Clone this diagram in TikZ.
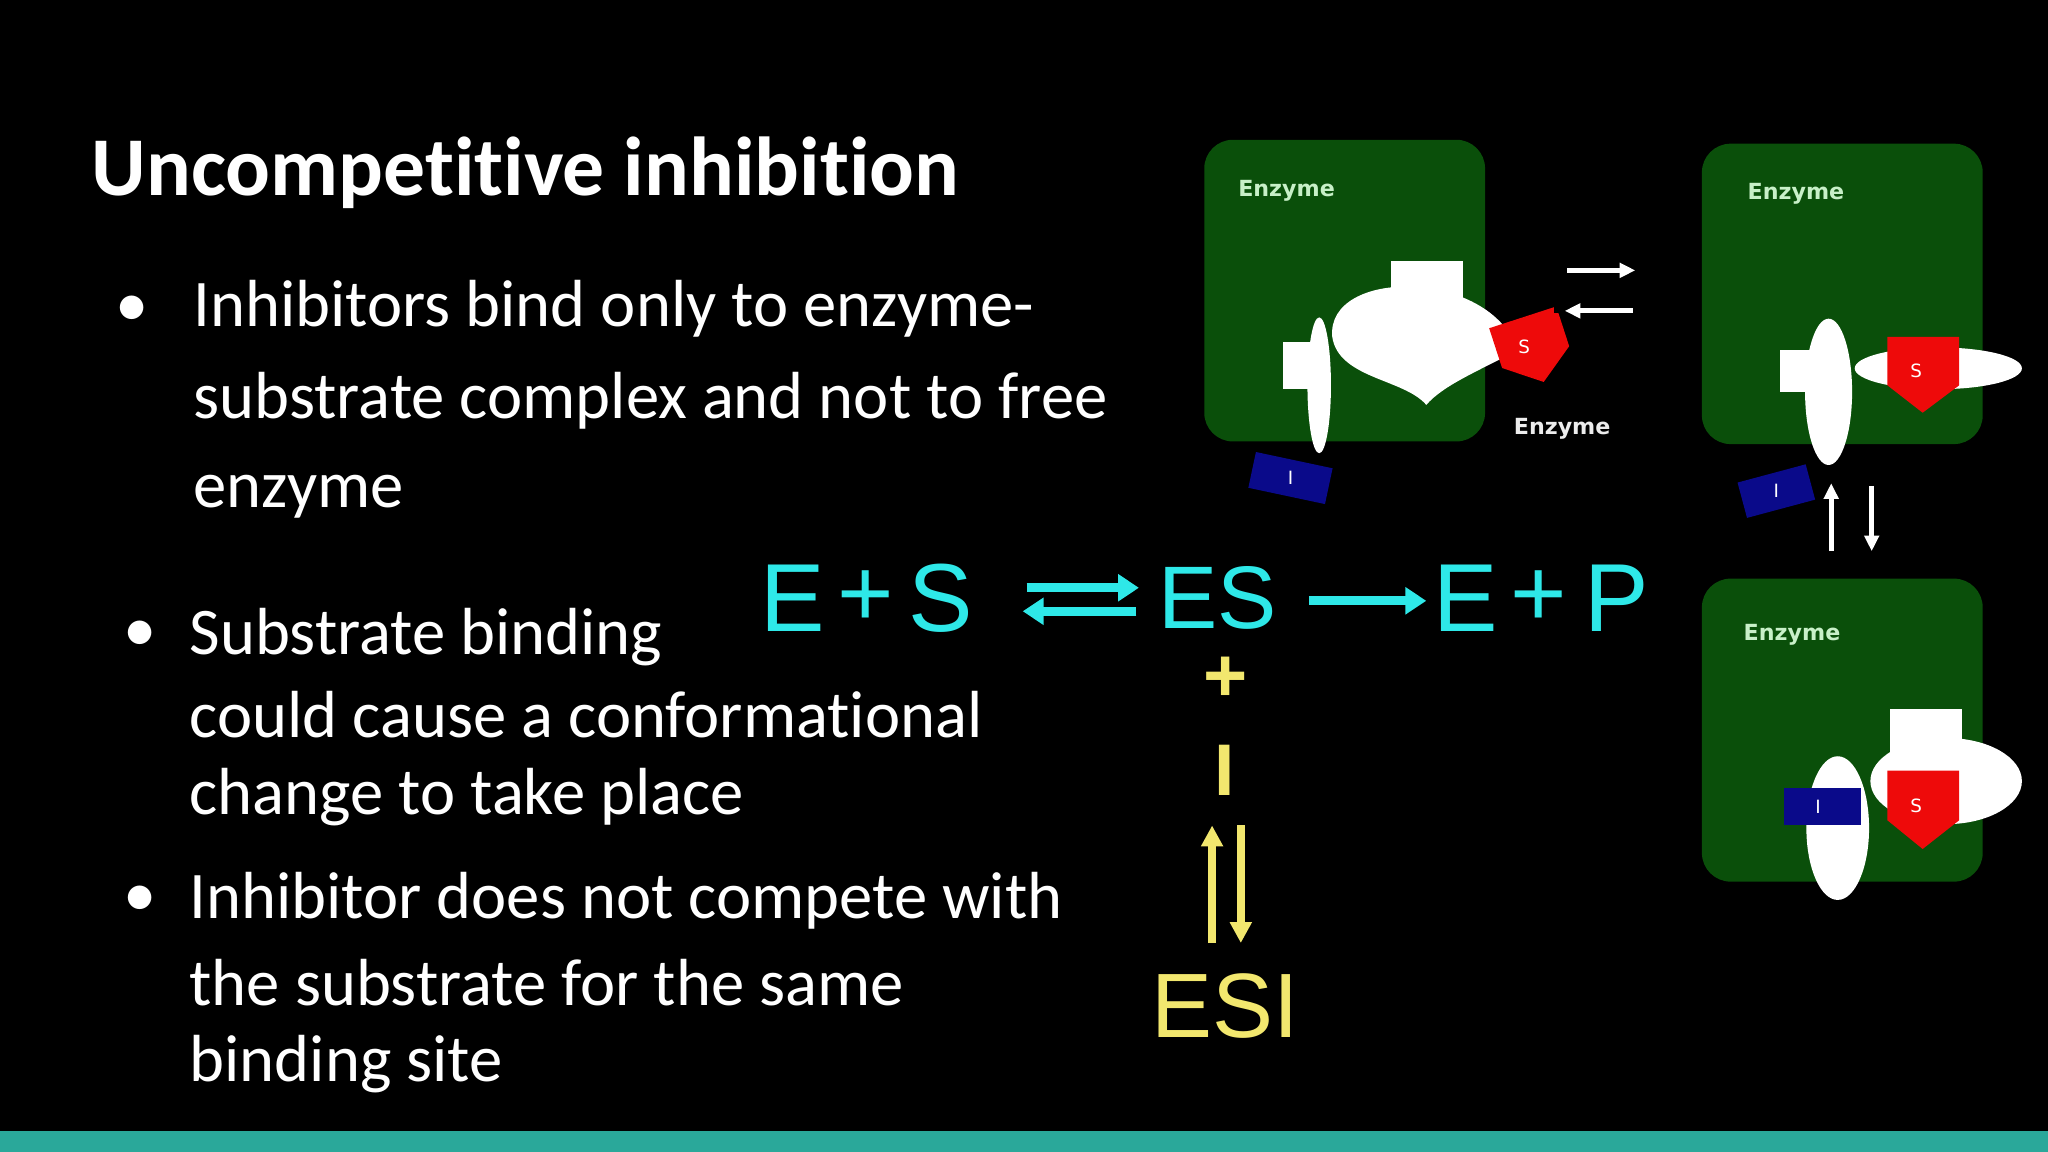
\documentclass[tikz,border=0pt]{standalone}
\usepackage{fontspec}
\setmainfont[Ligatures=NoCommon]{Carlito}
\newfontfamily\eqfont{Liberation Sans}
\newfontfamily\labfont{DejaVu Sans}
\usetikzlibrary{arrows.meta}
\definecolor{teal}{HTML}{2AA89A}
\definecolor{cy}{HTML}{2EE8E8}
\definecolor{yl}{HTML}{F2E76E}
\definecolor{gr}{HTML}{0A4F0A}
\definecolor{lg}{HTML}{C8F0C8}
\definecolor{bl}{HTML}{0A0A8A}
\definecolor{rd}{HTML}{EE0A0A}
\begin{document}
\begin{tikzpicture}[x=1pt,y=-1pt,
  txt/.style={text=white,anchor=west,inner sep=0,font=\fontsize{51}{55}\selectfont},
  eq/.style={text=cy,inner sep=0,font=\eqfont\fontsize{74}{78}\selectfont},
  eqy/.style={text=yl,inner sep=0,font=\eqfont\fontsize{72}{76}\selectfont},
  box/.style={fill=gr,rounded corners=22pt},
  enz/.style={text=lg,inner sep=0,font=\labfont\bfseries\fontsize{17}{19}\selectfont},
  wh/.style={fill=white},
  lab/.style={text=white,inner sep=0,font=\labfont\fontsize{14}{16}\selectfont},
  carr/.style={draw=cy,line width=7pt,-{Triangle[length=16pt,width=20pt]}},
  yarr/.style={draw=yl,line width=6pt,-{Triangle[length=16pt,width=16pt]}},
  warr/.style={draw=white,line width=4pt,-{Triangle[length=12pt,width=11pt]}}]
\fill[black] (0,0) rectangle (1568,882);
\useasboundingbox (0,0) rectangle (1568,882);
\fill[teal] (0,866) rectangle (1568,882);
% texts
\node[txt,font=\bfseries\fontsize{64}{68}\selectfont] (title) at (70,132) {Uncompetitive inhibition};
\node[txt] (b1) at (88,238) {\textbullet};
\node[txt] (l11) at (148,236) {Inhibitors bind only to enzyme-};
\node[txt] (l12) at (148,307) {substrate complex and not to free};
\node[txt] (l13) at (148,380) {enzyme};
\node[txt] (b2) at (94,487) {•};
\node[txt] (l21) at (145,488) {Substrate binding};
\node[txt] (l22) at (145,547) {could cause a conformational};
\node[txt] (l23) at (145,610) {change to take place};
\node[txt] (b3) at (94,690) {•};
\node[txt] (l31) at (145,690) {Inhibitor does not compete with};
\node[txt] (l32) at (145,752) {the substrate for the same};
\node[txt] (l33) at (145,815) {binding site};
% equation
\node[eq] (e1) at (607,458) {E};
\node[eq] (p1) at (663,458) {+};
\node[eq] (s1) at (720,458) {S};
\node[eq,font=\eqfont\fontsize{68}{72}\selectfont] (es) at (932,458) {ES};
\node[eq] (e2) at (1122,458) {E};
\node[eq] (p2) at (1178,458) {+};
\node[eq] (pp) at (1238,458) {P};
\coordinate (h1a) at (786,450); \coordinate (h1b) at (872,450);
\coordinate (h2a) at (870,468); \coordinate (h2b) at (783,468);
\draw[carr] (h1a) -- (h1b);
\draw[carr] (h2a) -- (h2b);
\coordinate (fa) at (1002,460); \coordinate (fb) at (1092,460);
\draw[carr] (fa) -- (fb);
\node[eqy,font=\eqfont\bfseries\fontsize{58}{62}\selectfont] (yp) at (938,520) {+};
\node[eqy,font=\eqfont\bfseries\fontsize{56}{60}\selectfont] (yi) at (938,590) {I};
\node[eqy,font=\eqfont\fontsize{70}{74}\selectfont] (esi) at (938,770) {ESI};
\coordinate (ua) at (928,722); \coordinate (ub) at (928,632);
\coordinate (da) at (950,632); \coordinate (db) at (950,722);
\draw[yarr] (ua) -- (ub);
\draw[yarr] (da) -- (db);
% box 1
\fill[box] (922,107) rectangle (1137,338);
\node[enz] (en1) at (985,146) {Enzyme};
\fill[wh] (982,262) rectangle (1005,298);
\fill[wh] (1010,295) ellipse (9 and 52);
\fill[wh] (1065,200) rectangle (1120,228);
\fill[wh] (1020,258) .. controls (1015,205) and (1140,205) .. (1162,268) .. controls (1130,285) and (1105,295) .. (1092,310) .. controls (1075,290) and (1025,290) .. cycle;
\begin{scope}[shift={(1172,262)},rotate=18]
\fill[rd] (-27,-20) -- (27,-20) -- (27,12) -- (0,32) -- (-27,12) -- cycle;
\node[lab] (s1l) at (-6,2) {S};
\end{scope}
\fill[black] (1190,228) rectangle (1205,240);
\node[lab,font=\labfont\bfseries\fontsize{17}{19}\selectfont,text=white!85!gray] (en1b) at (1196,328) {Enzyme};
\begin{scope}[shift={(988,366)},rotate=-12]
\fill[bl] (-30,-14) rectangle (30,14);
\node[lab] (i1l) at (0,0) {I};
\end{scope}
\coordinate (wa) at (1200,207); \coordinate (wb) at (1252,207);
\coordinate (wc) at (1250,238); \coordinate (wd) at (1198,238);
\draw[warr] (wa) -- (wb);
\draw[warr] (wc) -- (wd);
% box 2
\fill[box] (1303,110) rectangle (1518,340);
\node[enz] (en2) at (1375,148) {Enzyme};
\fill[wh] (1363,268) rectangle (1392,300);
\fill[wh] (1400,300) ellipse (18 and 56);
\fill[wh] (1484,282) ellipse (64 and 16);
\fill[rd] (1445,258) -- (1500,258) -- (1500,295) -- (1472,316) -- (1445,295) -- cycle;
\node[lab] (s2l) at (1467,284) {S};
\begin{scope}[shift={(1360,376)},rotate=15]
\fill[bl] (-27,-14) rectangle (27,14);
\node[lab] (i2l) at (0,0) {I};
\end{scope}
\coordinate (va) at (1402,422); \coordinate (vb) at (1402,370);
\coordinate (vc) at (1433,372); \coordinate (vd) at (1433,422);
\draw[warr] (va) -- (vb);
\draw[warr] (vc) -- (vd);
% box 3
\fill[box] (1303,443) rectangle (1518,675);
\node[enz] (en3) at (1372,486) {Enzyme};
\fill[wh] (1447,543) rectangle (1502,578);
\fill[wh] (1490,598) ellipse (58 and 33);
\fill[wh] (1407,634) ellipse (24 and 55);
\fill[bl] (1366,603) rectangle (1425,632);
\node[lab] (i3l) at (1392,618) {I};
\fill[rd] (1445,590) -- (1500,590) -- (1500,628) -- (1472,650) -- (1445,628) -- cycle;
\node[lab] (s3l) at (1467,617) {S};
\end{tikzpicture}
\end{document}
